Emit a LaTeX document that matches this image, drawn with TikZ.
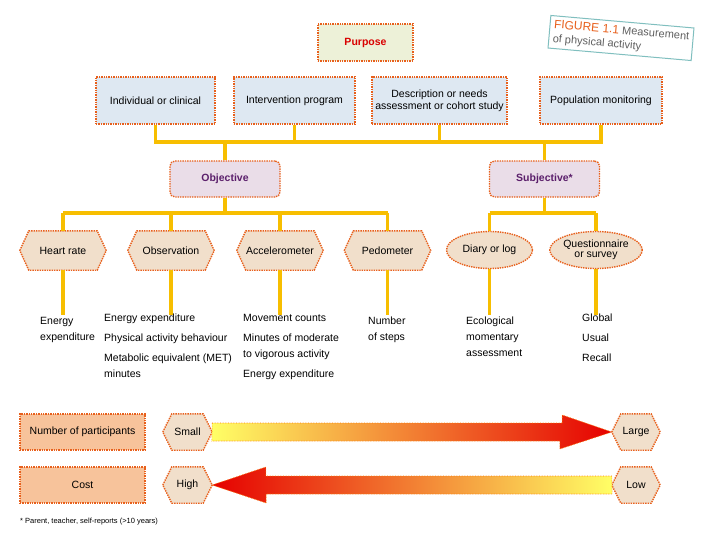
\documentclass[tikz,border=0pt]{standalone}
\usepackage{fontspec}
\setmainfont{Liberation Sans}
\usetikzlibrary{backgrounds,shapes.geometric}
\definecolor{bord}{HTML}{E8601C}
\definecolor{conn}{HTML}{F7BE00}
\definecolor{pfill}{HTML}{EDF1D8}
\definecolor{bfill}{HTML}{DEE8F2}
\definecolor{ofill}{HTML}{EADDE8}
\definecolor{hfill}{HTML}{F1DFCB}
\definecolor{sfill}{HTML}{F7C39B}
\definecolor{purp}{HTML}{5B1F6B}
\tikzset{
  x=1pt,y=-1pt,
  every node/.style={font=\fontsize{10.5}{12}\selectfont},
  dotb/.style={draw=bord,densely dotted,line width=1.4pt},
  boxb/.style={dotb,fill=bfill,minimum height=47pt,align=center,inner sep=2pt},
  objb/.style={dotb,fill=ofill,rounded corners=5pt,minimum width=110pt,minimum height=36pt,text=purp,font=\fontsize{10.5}{12}\selectfont\bfseries},
  hexb/.style={minimum height=39pt,minimum width=86pt,inner sep=0pt},
  hexl/.style={dotb,fill=hfill},
  ellb/.style={ellipse,dotb,fill=hfill,minimum width=86pt,minimum height=37pt,inner sep=0pt,align=center,font=\fontsize{10.5}{10.5}\selectfont},
  sbox/.style={dotb,fill=sfill,minimum width=125pt,minimum height=36pt},
  cn/.style={conn,line width=3.5pt},
  txt/.style={anchor=north west,align=left,inner sep=0pt,font=\fontsize{10.5}{20}\selectfont},
}
\newcommand\hexn[5]{%
  \node[hexb,minimum width=#4,minimum height=#5] (#1) at (#2) {#3};
  \begin{scope}[on background layer]
  \draw[hexl] (#1.west) -- ([xshift=9pt]#1.north west) -- ([xshift=-9pt]#1.north east) -- (#1.east) -- ([xshift=-9pt]#1.south east) -- ([xshift=9pt]#1.south west) -- cycle;
  \end{scope}}
\begin{document}
\begin{tikzpicture}
\useasboundingbox (0,0) rectangle (707,539);
\begin{scope}[on background layer]
\fill[white] (0,0) rectangle (707,539);
\end{scope}
% figure label
\node[rotate=-5,draw=teal!50,line width=1pt,fill=white,align=left,inner sep=4pt,text=gray!75!black,font=\fontsize{11}{13}\selectfont] (fig) at (621,38)
  {{\color{bord}\fontsize{12}{12}\selectfont FIGURE 1.1} Measurement\\[1pt]of physical activity};
% top
\node[dotb,fill=pfill,minimum width=95pt,minimum height=37pt,text=red!85!black,font=\fontsize{10.5}{12}\selectfont\bfseries] (purpose) at (365.5,42.5) {Purpose};
\node[boxb,minimum width=119pt] (ind) at (155.5,100.5) {Individual or clinical};
\node[boxb,minimum width=121pt] (int) at (294.5,100.5) {Intervention program};
\node[boxb,minimum width=135pt] (des) at (439.5,100.5) {Description or needs\\assessment or cohort study};
\node[boxb,minimum width=122pt] (pop) at (601,100.5) {Population monitoring};
\node[objb] (obj) at (225,179) {Objective};
\node[objb] (sub) at (544.5,179) {Subjective*};
\coordinate (b1) at (155.5,142);
\coordinate (b2) at (601,142);
\coordinate (bo) at (225,142);
\coordinate (bs) at (544.5,142);
% level 3
\hexn{hr}{63,250.5}{Heart rate}{86pt}{39pt}
\hexn{obs}{171,250.5}{Observation}{86pt}{39pt}
\hexn{acc}{280,250.5}{Accelerometer}{86pt}{39pt}
\hexn{ped}{387.5,250.5}{Pedometer}{86pt}{39pt}
\node[ellb] (dia) at (489.5,250) {Diary or log};
\node[ellb,minimum width=90pt] (que) at (596,250) {Questionnaire\\or survey};
\coordinate (c1) at (63,213);
\coordinate (c2) at (387.5,213);
\coordinate (co) at (225,213);
\coordinate (d1) at (489.5,213);
\coordinate (d2) at (596,213);
\coordinate (cs) at (544.5,213);
% text blocks
\coordinate (e1) at (63,315);
\coordinate (e2) at (171,315);
\coordinate (e3) at (280,315);
\coordinate (e4) at (387.5,315);
\coordinate (e5) at (489.5,315);
\coordinate (e6) at (596,315);
\node[txt,font=\fontsize{10.5}{16}\selectfont] (t1) at (40,317) {Energy\\expenditure};
\node[txt] (t2) at (104,314) {Energy expenditure\\Physical activity behaviour\\Metabolic equivalent (MET)\\[-4pt]minutes};
\node[txt] (t3) at (243,314) {Movement counts\\Minutes of moderate\\[-4pt]to vigorous activity\\Energy expenditure};
\node[txt,font=\fontsize{10.5}{16}\selectfont] (t4) at (368,317) {Number\\of steps};
\node[txt,font=\fontsize{10.5}{16}\selectfont] (t5) at (466,317) {Ecological\\momentary\\assessment};
\node[txt] (t6) at (582,314) {Global\\Usual\\Recall};
% connectors
\begin{scope}[on background layer]
\draw[cn] (ind.south) -- (b1) -- (b2) -- (pop.south);
\draw[cn] (int.south) -- (int.south |- b1);
\draw[cn] (des.south) -- (des.south |- b1);
\draw[cn] (bo) -- (obj.north);
\draw[cn] (bs) -- (sub.north);
\draw[cn] (obj.south) -- (co);
\draw[cn] (c1) -- (c2);
\draw[cn] (c1) -- (hr.north);
\draw[cn] (c2) -- (ped.north);
\draw[cn] (obs.north |- c1) -- (obs.north);
\draw[cn] (acc.north |- c1) -- (acc.north);
\draw[cn] (sub.south) -- (cs);
\draw[cn] (d1) -- (d2);
\draw[cn] (d1) -- (dia.north);
\draw[cn] (d2) -- (que.north);
\draw[cn] (hr.south) -- (e1);
\draw[cn] (obs.south) -- (e2);
\draw[cn] (acc.south) -- (e3);
\draw[cn] (ped.south) -- (e4);
\draw[cn] (dia.south) -- (e5);
\draw[cn] (que.south) -- (e6);
\end{scope}
% bottom
\node[sbox] (np) at (82.5,432) {Number of participants};
\node[sbox] (cost) at (82.5,485) {Cost};
\hexn{small}{187.5,432}{Small}{49pt}{36pt}
\hexn{large}{636,432}{Large}{48pt}{36pt}
\hexn{high}{187.5,485}{High}{49pt}{36pt}
\hexn{low}{636,485}{Low}{48pt}{36pt}
\begin{scope}[on background layer]
\path[left color=yellow!60!white,right color=red!90!black,draw=orange,densely dotted,line width=0.6pt]
  (small.east) ++(0,-9) -- ++(350,0) -- ++(0,-8) -- (large.west) -- ++(-52,17) -- ++(0,-8) -- ++(-348,0) -- cycle;
\path[right color=yellow!60!white,left color=red!90!black,draw=orange,densely dotted,line width=0.6pt]
  (low.west) ++(0,-9) -- ++(-346,0) -- ++(0,-9) -- (high.east) -- ++(54,18) -- ++(0,-9) -- ++(346,0) -- cycle;
\end{scope}
\node[anchor=west,inner sep=0pt,font=\fontsize{7.5}{9}\selectfont] (fn) at (20,522) {* Parent, teacher, self-reports (>10 years)};
\end{tikzpicture}
\end{document}
